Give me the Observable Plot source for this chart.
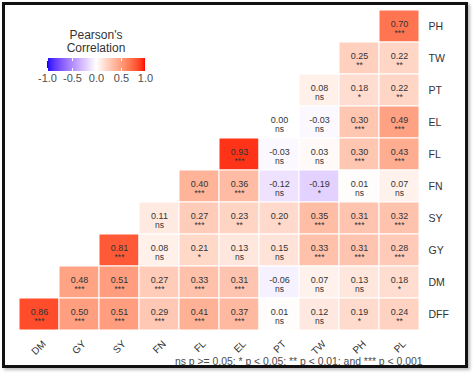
<!DOCTYPE html>
<html><head><meta charset="utf-8">
<script src="https://cdn.jsdelivr.net/npm/d3@7"></script>
<script src="https://cdn.jsdelivr.net/npm/@observablehq/plot@0.6"></script>
<style>
body{margin:0;background:#fff;font-family:"Liberation Sans",Arial,sans-serif;}
#wrap{position:relative;width:474px;height:375px;overflow:hidden;background:#fff;}
#frame{position:absolute;left:2px;top:2px;width:466px;height:366px;border:3px solid #111;box-sizing:border-box;box-shadow:2px 2px 3px #bbb;pointer-events:none;}
#chart{position:absolute;left:0;top:0;}
#legtitle{position:absolute;left:46px;top:29px;width:100px;text-align:center;font-size:12px;line-height:12.5px;color:#333;}
#legend{position:absolute;left:39px;top:58px;}
#legend svg text{font-size:11px;fill:#4d4d4d;font-family:"Liberation Sans",Arial,sans-serif;}
#legend svg .tick line{stroke:#fff;stroke-dasharray:3 7 3;}
</style>
</head><body>
<div id="wrap">
  <div id="chart"></div>
  <div id="legtitle">Pearson's<br>Correlation</div>
  <div id="legend"></div>
  <div id="frame"></div>
</div>
<script>
const cols = ["DM","GY","SY","FN","FL","EL","PT","TW","PH","PL"];
const rows = ["PH","TW","PT","EL","FL","FN","SY","GY","DM","DFF"];
// correlation values per row (aligned with cols; null = empty)
const values = [
  [null,null,null,null,null,null,null,null,null,0.70],
  [null,null,null,null,null,null,null,null,0.25,0.22],
  [null,null,null,null,null,null,null,0.08,0.18,0.22],
  [null,null,null,null,null,null,0.00,-0.03,0.30,0.49],
  [null,null,null,null,null,0.93,-0.03,0.03,0.30,0.43],
  [null,null,null,null,0.40,0.36,-0.12,-0.19,0.01,0.07],
  [null,null,null,0.11,0.27,0.23,0.20,0.35,0.31,0.32],
  [null,null,0.81,0.08,0.21,0.13,0.15,0.33,0.31,0.28],
  [null,0.48,0.51,0.27,0.33,0.31,-0.06,0.07,0.13,0.18],
  [0.86,0.50,0.51,0.29,0.41,0.37,0.01,0.12,0.19,0.24]
];
// significance labels per row (for the non-empty cells, left to right)
const signif = [
  ["***"],
  ["**","**"],
  ["ns","*","**"],
  ["ns","ns","***","***"],
  ["***","ns","ns","***","***"],
  ["***","***","ns","*","ns","ns"],
  ["ns","***","**","*","***","***","***"],
  ["***","ns","*","ns","ns","***","***","***"],
  ["***","***","***","***","***","ns","ns","ns","*"],
  ["***","***","***","***","***","***","ns","ns","*","**"]
];
const legendTicks = [-1, -0.5, 0, 0.5, 1];
const caption = "ns p >= 0.05; * p < 0.05; ** p < 0.01; and *** p < 0.001";

const data = [];
rows.forEach((r, i) => {
  let k = 0;
  cols.forEach((c, j) => {
    const v = values[i][j];
    if (v != null) data.push({row: r, col: c, v, sig: signif[i][k++]});
  });
});

const colorOpts = {type: "linear", domain: [-1, 0, 1], range: ["blue", "white", "red"], interpolate: "lab"};
const hasAxisMarks = typeof Plot.axisY === "function";

const marks = [
  Plot.cell(data, {x: "col", y: "row", fill: "v", stroke: "white", strokeWidth: 1}),
  Plot.text(data, {x: "col", y: "row", text: d => d.v.toFixed(2), dy: -2, fontSize: 9, fill: "#333"}),
  Plot.text(data, {x: "col", y: "row", text: "sig", dy: 7, fontSize: 8.5, fill: "#333"}),
  // rotated x tick labels
  Plot.text(cols, {x: d => d, text: d => d, frameAnchor: "bottom", rotate: -45, textAnchor: "end", lineAnchor: "top", dx: 2, dy: 9, fontSize: 10, fill: "#333"}),
  Plot.text([caption], {frameAnchor: "bottom-right", dy: 34, textAnchor: "end", fontSize: 10.4, fill: "#4d4d4d"})
];
if (hasAxisMarks) {
  marks.push(Plot.axisY({anchor: "right", tickSize: 0, tickPadding: 6, label: null, fontSize: 10.5, fill: "#333"}));
}

const chart = Plot.plot({
  width: 474, height: 375,
  marginLeft: 15, marginRight: 52, marginTop: 9, marginBottom: 45,
  style: {fontFamily: "'Liberation Sans', Arial, sans-serif", fontSize: "10.5px", color: "#333", background: "transparent"},
  x: {domain: cols, padding: 0, label: null, axis: null},
  y: {domain: rows, padding: 0, label: null, tickSize: 0, tickPadding: 6, ...(hasAxisMarks ? {axis: null} : {axis: "right"})},
  color: colorOpts,
  marks
});
document.getElementById("chart").appendChild(chart);

const leg = Plot.legend({
  color: colorOpts,
  width: 114, height: 30,
  marginTop: 0, marginBottom: 17, marginLeft: 8, marginRight: 8,
  tickSize: 0, ticks: legendTicks, tickFormat: d => d.toFixed(1), label: null
});
document.getElementById("legend").appendChild(leg);
</script>
</body></html>
